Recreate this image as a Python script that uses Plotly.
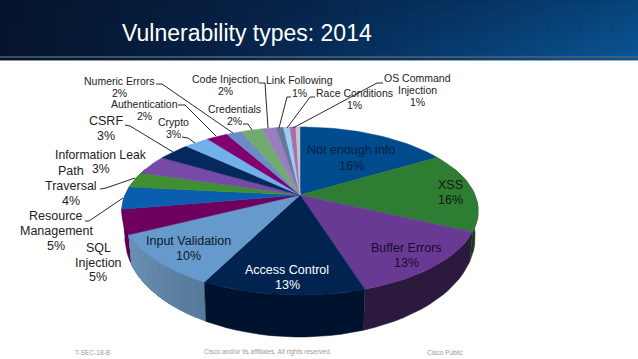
import math
import plotly.graph_objects as go

TITLE = "Vulnerability types: 2014"
FOOTER = ["T-SEC-18-B", "Cisco and/or its affiliates. All rights reserved.", "Cisco Public"]

categories = ["Not enough info", "XSS", "Buffer Errors", "Access Control", "Input Validation",
              "SQL Injection", "Resource Management", "Path Traversal", "Information Leak", "CSRF",
              "Crypto", "Authentication", "Numeric Errors", "Credentials", "Code Injection",
              "Link Following", "Race Conditions", "OS Command Injection", "Other"]
values = [16.5, 15.4, 13.2, 12.4, 10.1, 4.7, 4.3, 3.0, 3.8, 3.5, 2.7, 2.3, 1.6, 2.4, 1.5, 0.8, 0.7, 0.65, 0.45]
percent_labels = ["16%", "16%", "13%", "13%", "10%", "5%", "5%", "4%", "3%", "3%",
                  "3%", "2%", "2%", "2%", "2%", "1%", "1%", "1%", ""]
top_colors = ["#004b8d", "#2f7d32", "#683a94", "#00234f", "#6699cc", "#6e0060", "#0a5eb0", "#3f9030",
              "#764aa6", "#05295c", "#72b0ea", "#800070", "#6a8cc6", "#72aa72", "#9a7cc0", "#667799",
              "#9accf5", "#a86fa8", "#c4c4cc"]
wall_colors = ["#003060", "#163f18", "#2b1a3d", "#00132e", "#5b86b0", "#5a0050", "#084a8c", "#2c6a22",
               "#5a3a80", "#05205a", "#5a90c0", "#600058", "#5a78a8", "#5a8a5a", "#7a60a0", "#556080",
               "#7aa0c8", "#805080", "#a0a0a8"]

# perspective model of the tilted disc, in page pixels
CX, CY, RX, RY, K = 300, 195, 175, 81, 0.19
LOW_CY, LOW_RX, LOW_RY = 218, 172, 96.4


def project(angle_deg, low=False):
    a = math.radians(angle_deg)
    u, v = math.sin(a), -math.cos(a)
    w = 1 - K * v
    if low:
        return CX + LOW_RX * u / w, LOW_CY + LOW_RY * v / w
    return CX + RX * u / w, CY + RY * v / w


total = sum(values)
edges = [0.0]
for val in values:
    edges.append(edges[-1] + val / total * 360)

fig = go.Figure()

# header band
grid_x = [i * 638 / 40 for i in range(41)]
grid_y = [i * 57 / 8 for i in range(9)]
fig.add_trace(go.Heatmap(
    x=grid_x, y=grid_y,
    z=[[(i / 40) ** 1.2 * (0.75 + 0.25 * j / 8) for i in range(41)] for j in range(9)],
    colorscale=[[0, "#05142c"], [0.35, "#06264e"], [0.7, "#073f74"], [1, "#0a5594"]],
    zmin=0, zmax=1, showscale=False, hoverinfo="skip"))


def poly(pts, fill):
    fig.add_trace(go.Scatter(x=[p[0] for p in pts], y=[p[1] for p in pts], mode="lines",
                             fill="toself", fillcolor=fill, line=dict(color=fill, width=0.5),
                             hoverinfo="skip", showlegend=False))


def mix(c1, c2, t):
    a = [int(c1[i:i + 2], 16) for i in (1, 3, 5)]
    b = [int(c2[i:i + 2], 16) for i in (1, 3, 5)]
    return "#" + "".join(f"{round(x + (y - x) * t):02x}" for x, y in zip(a, b))


# side walls, visible between roughly 3 o'clock and 9 o'clock
order = sorted(range(len(values)), key=lambda i: -abs((edges[i] + edges[i + 1]) / 2 - 180))
for i in order:
    a0, a1 = max(edges[i], 70), min(edges[i + 1], 290)
    if a1 <= a0:
        continue
    n = max(2, int((a1 - a0) / 3))
    if categories[i] == "Input Validation":
        for k in range(n):
            s0 = a0 + (a1 - a0) * k / n
            s1 = a1
            mid = [s0 + (s1 - s0) * q / 8 for q in range(9)]
            poly([project(s) for s in mid] + [project(s, low=True) for s in reversed(mid)],
                 mix("#587a9b", "#6a90b4", k / (n - 1)))
    else:
        steps = [a0 + (a1 - a0) * k / n for k in range(n + 1)]
        poly([project(s) for s in steps] + [project(s, low=True) for s in reversed(steps)],
             wall_colors[i])

# top faces
for i in range(len(values)):
    n = max(2, int((edges[i + 1] - edges[i]) / 2))
    steps = [edges[i] + (edges[i + 1] - edges[i]) * k / n for k in range(n + 1)]
    poly([(CX, CY)] + [project(s) for s in steps] + [(CX, CY)], top_colors[i])

# leader lines
leaders = [
    [(156, 84), (162, 84), (233, 133)], [(178, 105), (185, 105), (216, 136)],
    [(182, 137), (188, 138), (195, 143)], [(125, 125), (130, 126), (173, 152)],
    [(100, 189), (106, 188), (135, 178)], [(85, 221), (89, 221), (123, 198)],
    [(259, 83), (265, 83), (268, 128)], [(243, 124), (248, 124), (252, 130)],
    [(291, 97), (287, 97), (279, 128)], [(315, 97), (310, 97), (287, 128)],
    [(383, 83), (377, 83), (293, 128)],
]
for seg in leaders:
    fig.add_trace(go.Scatter(x=[p[0] for p in seg], y=[p[1] for p in seg], mode="lines",
                             line=dict(color="#111111", width=0.9), hoverinfo="skip", showlegend=False))

# slice labels: (category index, text lines, x, first y, line step, size, colour)
label_layout = [
    (0, ["Not enough info"], 351, 150, 16, 12.5, "#04203f"),
    (1, ["XSS"], 450, 185, 15, 12.5, "#0a1a0a"),
    (2, ["Buffer Errors"], 406, 248, 15, 12.5, "#1a0a2a"),
    (3, ["Access Control"], 287, 270, 14.5, 12.5, "#ffffff"),
    (4, ["Input Validation"], 188, 241, 15, 12.5, "#0c1a2a"),
    (5, ["SQL", "Injection"], 98, 248, 14.7, 12.5, "#222222"),
    (6, ["Resource", "Management"], 56, 216, 15, 12.5, "#222222"),
    (7, ["Path", "Traversal"], 71, 171, 15, 12.5, "#222222"),
    (8, ["Information Leak"], 101, 155, 14, 12.2, "#222222"),
    (9, ["CSRF"], 106, 121, 15, 12.5, "#222222"),
    (10, ["Crypto"], 173, 122, 12, 10.5, "#222222"),
    (11, ["Authentication"], 144, 103.5, 12, 10.5, "#222222"),
    (12, ["Numeric Errors"], 119, 80.5, 12, 10.5, "#222222"),
    (13, ["Credentials"], 234, 109, 12, 10.5, "#222222"),
    (14, ["Code Injection"], 225, 78.5, 12, 10.5, "#222222"),
    (15, ["Link Following"], 299, 80, 12.5, 10.5, "#222222"),
    (16, ["Race Conditions"], 354, 93, 12, 10.5, "#222222"),
    (17, ["OS Command", "Injection"], 417, 78, 12, 10.5, "#222222"),
]
annotations = []


def note(text, x, y, size, color, anchor="center"):
    annotations.append(dict(x=x, y=y, xref="x", yref="y", text=text, showarrow=False,
                            xanchor=anchor, yanchor="middle",
                            font=dict(family="Liberation Sans", size=size, color=color)))


for idx, lines, x, y, step, size, color in label_layout:
    for j, text in enumerate(lines + [percent_labels[idx]]):
        note(text, x, y + j * step, size, color)

note(TITLE, 120, 33, 23, "#ffffff", "left")
for text, x in zip(FOOTER, [92, 268, 445]):
    note(text, x, 352, 6.5, "#9a9a9a")

fig.update_layout(
    width=638, height=359, autosize=False,
    margin=dict(l=0, r=0, t=0, b=0),
    paper_bgcolor="#ffffff", plot_bgcolor="#ffffff",
    showlegend=False, annotations=annotations,
    shapes=[dict(type="line", x0=0, x1=638, y0=57, y1=57, xref="x", yref="y",
                 line=dict(color="#56626e", width=1.5))],
    xaxis=dict(range=[0, 638], visible=False, fixedrange=True),
    yaxis=dict(range=[359, 0], visible=False, fixedrange=True),
)
fig.write_html("out.html", config={"displayModeBar": False},
               post_script="document.body.style.margin='0';document.documentElement.style.overflow='hidden';")
